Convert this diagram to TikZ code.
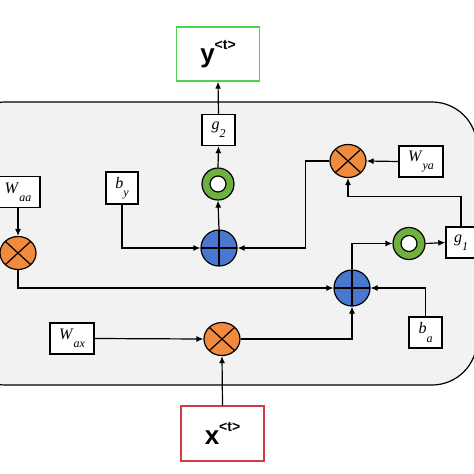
\documentclass[tikz,border=0pt]{standalone}
\usepackage{fontspec}
\setmainfont{Liberation Serif}
\setsansfont{Liberation Sans}
\usetikzlibrary{arrows.meta,shapes.geometric}

\definecolor{cellgray}{HTML}{F2F2F2}
\definecolor{multorange}{HTML}{F08A3C}
\definecolor{sumblue}{HTML}{4A78D0}
\definecolor{ringgreen}{HTML}{6FB13F}
\definecolor{outgreen}{HTML}{4CD44C}
\definecolor{inred}{HTML}{D03A42}

% weight / bias label: italic letter with a low subscript
\newcommand{\wlabel}[2]{\fontsize{16}{16}\selectfont\textit{#1}\raisebox{-1.1ex}{\fontsize{12}{12}\selectfont\textit{#2}}}
% input / output label
\newcommand{\iolabel}[1]{\sffamily\bfseries\fontsize{26}{26}\selectfont #1\raisebox{1.0ex}{\fontsize{14}{14}\selectfont <t>}}

\begin{document}
\begin{tikzpicture}[
        x=1pt, y=-1pt,
        % Define styles
        wbox/.style={draw=black, fill=white, line width=1.4pt, inner sep=0pt,
            minimum width=44pt, minimum height=31pt},
        gbox/.style={wbox, minimum width=33pt},
        iobox/.style={draw, fill=white, line width=1.4pt, inner sep=0pt,
            minimum width=83pt, minimum height=54pt},
        mult/.style={ellipse, draw=black, fill=multorange, line width=1.2pt,
            inner sep=0pt, minimum width=36pt, minimum height=33pt,
            path picture={\draw[line width=1.2pt]
                (path picture bounding box.north west) -- (path picture bounding box.south east)
                (path picture bounding box.north east) -- (path picture bounding box.south west);}},
        sum/.style={circle, draw=black, fill=sumblue, line width=1.2pt,
            inner sep=0pt, minimum size=36pt,
            path picture={\draw[line width=1.2pt]
                (path picture bounding box.north) -- (path picture bounding box.south)
                (path picture bounding box.west) -- (path picture bounding box.east);}},
        ring/.style={circle, draw=black, fill=ringgreen, line width=1.2pt,
            inner sep=0pt, minimum size=32pt,
            path picture={\filldraw[fill=white, draw=black, line width=1.2pt]
                (path picture bounding box.center) circle (8pt);}},
        arr/.style={line width=1.2pt, -{Latex[length=7pt,width=6pt]}},
        wire/.style={line width=1.2pt}
    ]
        \useasboundingbox (0,0) rectangle (474,474);

        % --- Cell ---
        \filldraw[fill=cellgray, draw=black, line width=1.2pt, rounded corners=45pt]
            (-40,102) rectangle (477,385);

        % --- Nodes ---

        % Output path
        \node[iobox, draw=outgreen] (ybox) at (218,54) {\iolabel{y}};
        \node[gbox] (gtwo) at (218.5,130) {\wlabel{g}{2}};
        \node[ring] (ringtop) at (218,184) {};
        \node[sum] (sumtop) at (219,248) {};
        \node[gbox, minimum width=32pt, minimum height=32pt] (bybox) at (122,188) {\wlabel{b}{y}};
        \node[mult] (multya) at (348,161) {};
        \node[wbox] (wyabox) at (421,161.5) {\wlabel{W}{ya}};

        % Hidden state path
        \node[gbox, minimum width=30pt] (gone) at (461,242.5) {\wlabel{g}{1}};
        \node[ring] (ringright) at (409,243.5) {};
        \node[sum] (sumright) at (352,288) {};
        \node[gbox] (babox) at (425.5,332.5) {\wlabel{b}{a}};
        \node[wbox] (waabox) at (18,192) {\wlabel{W}{aa}};
        \node[mult] (multaa) at (18,253) {};

        % Input path
        \node[wbox] (waxbox) at (72,338.5) {\wlabel{W}{ax}};
        \node[mult] (multax) at (222,339) {};
        \node[iobox, draw=inred, minimum height=55pt] (xbox) at (222.5,433.5) {\iolabel{x}};

        % --- Draw Edges ---
        % Output path
        \draw[arr] (gtwo.north) -- (ybox.south);
        \draw[arr] (ringtop.north) -- (gtwo.south);
        \draw[arr] (sumtop.north) -- (ringtop.south);
        \draw[arr] (bybox.south) |- (sumtop.west);
        \draw[arr] (multya.west) -- ++(-24,0) |- (sumtop.east);
        \draw[arr] (wyabox.west) -- (multya.east);
        \draw[arr] (gone.north) -- ++(0,-30) -| (multya.south);

        % Hidden state path
        \draw[arr] (ringright.east) -- (gone.west);
        \draw[arr] (sumright.north) |- (ringright.west);
        \draw[arr] (waabox.south) -- (multaa.north);
        \draw[arr] (multaa.south) |- (sumright.west);
        \draw[arr] (babox.north) |- (sumright.east);

        % Input path
        \draw[arr] (multax.east) -| (sumright.south);
        \draw[arr] (waxbox.east) -- (multax.west);
        \draw[arr] (xbox.north) -- (multax.south);

    \end{tikzpicture}
\end{document}
